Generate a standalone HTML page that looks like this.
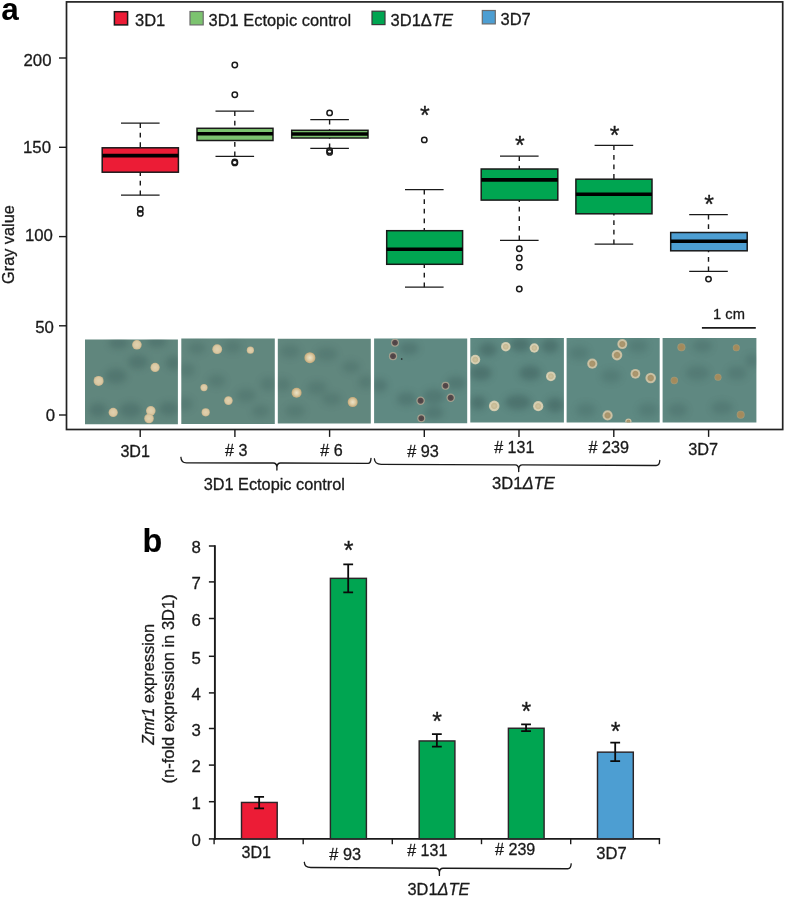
<!DOCTYPE html>
<html lang="en"><head><meta charset="utf-8"><title>Figure</title>
<style>html,body{margin:0;padding:0;background:#fff}body{width:785px;height:897px;overflow:hidden}svg{display:block}text{stroke:#1a1a1a;stroke-width:.3px;stroke-linejoin:round}</style>
</head><body>
<svg width="785" height="897" viewBox="0 0 785 897" font-family='"Liberation Sans", Arial, Helvetica, sans-serif' font-size="16.6" fill="#1a1a1a">
<defs>
<filter id="blur3" x="-50%" y="-50%" width="200%" height="200%"><feGaussianBlur stdDeviation="3.2"/></filter>
<filter id="blur1" x="-50%" y="-50%" width="200%" height="200%"><feGaussianBlur stdDeviation="0.5"/></filter>
<filter id="soft" x="-5%" y="-5%" width="110%" height="110%"><feGaussianBlur stdDeviation="0.35"/></filter>
</defs>
<rect width="785" height="897" fill="#fff"/>
<g id="panel-a">
<text x="1.2" y="19.6" font-size="31.5" font-weight="bold" fill="#000" style="stroke:none">a</text>
<rect x="66.5" y="1.9" width="716.2" height="427.6" fill="none" stroke="#222" stroke-width="1.7"/>
<line x1="59" y1="58.0" x2="66.5" y2="58.0" stroke="#1a1a1a" stroke-width="1.4"/>
<text x="51.5" y="65.8" text-anchor="end" font-size="16.8">200</text>
<line x1="59" y1="147.3" x2="66.5" y2="147.3" stroke="#1a1a1a" stroke-width="1.4"/>
<text x="51.0" y="153.1" text-anchor="end" font-size="16.8">150</text>
<line x1="59" y1="236.6" x2="66.5" y2="236.6" stroke="#1a1a1a" stroke-width="1.4"/>
<text x="52.9" y="240.6" text-anchor="end" font-size="16.8">100</text>
<line x1="59" y1="325.8" x2="66.5" y2="325.8" stroke="#1a1a1a" stroke-width="1.4"/>
<text x="53.8" y="332.9" text-anchor="end" font-size="16.8">50</text>
<line x1="59" y1="415.0" x2="66.5" y2="415.0" stroke="#1a1a1a" stroke-width="1.4"/>
<text x="55.0" y="421.2" text-anchor="end" font-size="16.8">0</text>
<text transform="translate(13.5,244.6) rotate(-90)" text-anchor="middle" font-size="16.3">Gray value</text>
<line x1="140.2" y1="429.5" x2="140.2" y2="436.9" stroke="#1a1a1a" stroke-width="1.4"/>
<line x1="234.9" y1="429.5" x2="234.9" y2="436.9" stroke="#1a1a1a" stroke-width="1.4"/>
<line x1="329.6" y1="429.5" x2="329.6" y2="436.9" stroke="#1a1a1a" stroke-width="1.4"/>
<line x1="424.3" y1="429.5" x2="424.3" y2="436.9" stroke="#1a1a1a" stroke-width="1.4"/>
<line x1="519.0" y1="429.5" x2="519.0" y2="436.9" stroke="#1a1a1a" stroke-width="1.4"/>
<line x1="613.8" y1="429.5" x2="613.8" y2="436.9" stroke="#1a1a1a" stroke-width="1.4"/>
<line x1="708.6" y1="429.5" x2="708.6" y2="436.9" stroke="#1a1a1a" stroke-width="1.4"/>
<rect x="114.4" y="11.7" width="13.2" height="13.2" fill="#ec1c36" stroke="#1a1a1a" stroke-width="1.5"/>
<text x="135" y="26.2" font-size="16.5">3D1</text>
<rect x="190" y="11.5" width="13.2" height="13.4" fill="#7cc36f" stroke="#6b6b6b" stroke-width="1.2"/>
<text x="208.5" y="25.8" font-size="16.45">3D1 Ectopic control</text>
<rect x="372" y="11.2" width="13" height="13.4" fill="#00a551" stroke="#3a3a3a" stroke-width="1.2"/>
<text x="390.6" y="26.1" font-size="16.5">3D1Δ<tspan font-style="italic">TE</tspan></text>
<rect x="482.3" y="10.5" width="13" height="13.4" fill="#4d9ed2" stroke="#6b6b6b" stroke-width="1.2"/>
<text x="500.5" y="25.3" font-size="16.5">3D7</text>
<line x1="140.3" y1="123.1" x2="140.3" y2="147.8" stroke="#1a1a1a" stroke-width="1.4" stroke-dasharray="4.8 4.8"/>
<line x1="140.3" y1="195.2" x2="140.3" y2="172.2" stroke="#1a1a1a" stroke-width="1.4" stroke-dasharray="4.8 4.8"/>
<line x1="121.00000000000001" y1="123.1" x2="159.60000000000002" y2="123.1" stroke="#1a1a1a" stroke-width="1.3"/>
<line x1="121.00000000000001" y1="195.2" x2="159.60000000000002" y2="195.2" stroke="#1a1a1a" stroke-width="1.3"/>
<rect x="102.2" y="147.8" width="76.2" height="24.399999999999977" fill="#ec1c36" stroke="#1a1a1a" stroke-width="1.5"/>
<line x1="102.2" y1="155.6" x2="178.4" y2="155.6" stroke="#000" stroke-width="3.6"/>
<circle cx="140.3" cy="209.2" r="2.7" fill="none" stroke="#1a1a1a" stroke-width="1.5"/>
<circle cx="140.3" cy="213.4" r="2.7" fill="none" stroke="#1a1a1a" stroke-width="1.5"/>
<line x1="234.8" y1="111.1" x2="234.8" y2="128.3" stroke="#1a1a1a" stroke-width="1.4" stroke-dasharray="4.8 4.8"/>
<line x1="234.8" y1="156.3" x2="234.8" y2="140.5" stroke="#1a1a1a" stroke-width="1.4" stroke-dasharray="4.8 4.8"/>
<line x1="215.5" y1="111.1" x2="254.10000000000002" y2="111.1" stroke="#1a1a1a" stroke-width="1.3"/>
<line x1="215.5" y1="156.3" x2="254.10000000000002" y2="156.3" stroke="#1a1a1a" stroke-width="1.3"/>
<rect x="197.0" y="128.3" width="76.0" height="12.199999999999989" fill="#7cc36f" stroke="#1a1a1a" stroke-width="1.5"/>
<line x1="197.0" y1="133.8" x2="273.0" y2="133.8" stroke="#000" stroke-width="3.6"/>
<circle cx="234.8" cy="65.0" r="2.7" fill="none" stroke="#1a1a1a" stroke-width="1.5"/>
<circle cx="234.8" cy="94.8" r="2.7" fill="none" stroke="#1a1a1a" stroke-width="1.5"/>
<circle cx="234.8" cy="162.0" r="2.7" fill="none" stroke="#1a1a1a" stroke-width="1.5"/>
<circle cx="234.8" cy="162.9" r="2.7" fill="none" stroke="#1a1a1a" stroke-width="1.5"/>
<line x1="329.6" y1="119.7" x2="329.6" y2="130.3" stroke="#1a1a1a" stroke-width="1.4" stroke-dasharray="4.8 4.8"/>
<line x1="329.6" y1="148.3" x2="329.6" y2="138.0" stroke="#1a1a1a" stroke-width="1.4" stroke-dasharray="4.8 4.8"/>
<line x1="310.3" y1="119.7" x2="348.90000000000003" y2="119.7" stroke="#1a1a1a" stroke-width="1.3"/>
<line x1="310.3" y1="148.3" x2="348.90000000000003" y2="148.3" stroke="#1a1a1a" stroke-width="1.3"/>
<rect x="291.7" y="130.3" width="76.30000000000001" height="7.699999999999989" fill="#7cc36f" stroke="#1a1a1a" stroke-width="1.5"/>
<line x1="291.7" y1="134.0" x2="368.0" y2="134.0" stroke="#000" stroke-width="3.6"/>
<circle cx="329.6" cy="112.9" r="2.7" fill="none" stroke="#1a1a1a" stroke-width="1.5"/>
<circle cx="329.6" cy="150.8" r="2.7" fill="none" stroke="#1a1a1a" stroke-width="1.5"/>
<circle cx="329.6" cy="152.4" r="2.7" fill="none" stroke="#1a1a1a" stroke-width="1.5"/>
<line x1="424.3" y1="189.6" x2="424.3" y2="230.7" stroke="#1a1a1a" stroke-width="1.4" stroke-dasharray="4.8 4.8"/>
<line x1="424.3" y1="287.2" x2="424.3" y2="264.3" stroke="#1a1a1a" stroke-width="1.4" stroke-dasharray="4.8 4.8"/>
<line x1="405.0" y1="189.6" x2="443.6" y2="189.6" stroke="#1a1a1a" stroke-width="1.3"/>
<line x1="405.0" y1="287.2" x2="443.6" y2="287.2" stroke="#1a1a1a" stroke-width="1.3"/>
<rect x="386.7" y="230.7" width="75.90000000000003" height="33.60000000000002" fill="#00a551" stroke="#1a1a1a" stroke-width="1.5"/>
<line x1="386.7" y1="249.2" x2="462.6" y2="249.2" stroke="#000" stroke-width="3.6"/>
<circle cx="424.3" cy="139.9" r="2.7" fill="none" stroke="#1a1a1a" stroke-width="1.5"/>
<text x="424.90000000000003" y="124.3" text-anchor="middle" font-size="25">*</text>
<line x1="519.3" y1="156.2" x2="519.3" y2="169.0" stroke="#1a1a1a" stroke-width="1.4" stroke-dasharray="4.8 4.8"/>
<line x1="519.3" y1="240.3" x2="519.3" y2="200.1" stroke="#1a1a1a" stroke-width="1.4" stroke-dasharray="4.8 4.8"/>
<line x1="499.99999999999994" y1="156.2" x2="538.5999999999999" y2="156.2" stroke="#1a1a1a" stroke-width="1.3"/>
<line x1="499.99999999999994" y1="240.3" x2="538.5999999999999" y2="240.3" stroke="#1a1a1a" stroke-width="1.3"/>
<rect x="481.2" y="169.0" width="76.59999999999997" height="31.099999999999994" fill="#00a551" stroke="#1a1a1a" stroke-width="1.5"/>
<line x1="481.2" y1="179.9" x2="557.8" y2="179.9" stroke="#000" stroke-width="3.6"/>
<circle cx="519.3" cy="248.7" r="2.7" fill="none" stroke="#1a1a1a" stroke-width="1.5"/>
<circle cx="519.3" cy="257.9" r="2.7" fill="none" stroke="#1a1a1a" stroke-width="1.5"/>
<circle cx="519.3" cy="267.1" r="2.7" fill="none" stroke="#1a1a1a" stroke-width="1.5"/>
<circle cx="519.3" cy="289.0" r="2.7" fill="none" stroke="#1a1a1a" stroke-width="1.5"/>
<text x="519.9" y="153.6" text-anchor="middle" font-size="25">*</text>
<line x1="613.9" y1="145.3" x2="613.9" y2="179.2" stroke="#1a1a1a" stroke-width="1.4" stroke-dasharray="4.8 4.8"/>
<line x1="613.9" y1="244.2" x2="613.9" y2="213.8" stroke="#1a1a1a" stroke-width="1.4" stroke-dasharray="4.8 4.8"/>
<line x1="594.6" y1="145.3" x2="633.1999999999999" y2="145.3" stroke="#1a1a1a" stroke-width="1.3"/>
<line x1="594.6" y1="244.2" x2="633.1999999999999" y2="244.2" stroke="#1a1a1a" stroke-width="1.3"/>
<rect x="575.9" y="179.2" width="76.10000000000002" height="34.60000000000002" fill="#00a551" stroke="#1a1a1a" stroke-width="1.5"/>
<line x1="575.9" y1="194.3" x2="652.0" y2="194.3" stroke="#000" stroke-width="3.6"/>
<text x="614.5" y="144.1" text-anchor="middle" font-size="25">*</text>
<line x1="708.5" y1="214.6" x2="708.5" y2="232.5" stroke="#1a1a1a" stroke-width="1.4" stroke-dasharray="4.8 4.8"/>
<line x1="708.5" y1="271.4" x2="708.5" y2="250.8" stroke="#1a1a1a" stroke-width="1.4" stroke-dasharray="4.8 4.8"/>
<line x1="689.2" y1="214.6" x2="727.8" y2="214.6" stroke="#1a1a1a" stroke-width="1.3"/>
<line x1="689.2" y1="271.4" x2="727.8" y2="271.4" stroke="#1a1a1a" stroke-width="1.3"/>
<rect x="670.7" y="232.5" width="76.5" height="18.30000000000001" fill="#4d9ed2" stroke="#1a1a1a" stroke-width="1.5"/>
<line x1="670.7" y1="241.3" x2="747.2" y2="241.3" stroke="#000" stroke-width="3.6"/>
<circle cx="708.5" cy="279.1" r="2.7" fill="none" stroke="#1a1a1a" stroke-width="1.5"/>
<text x="709.1" y="212.9" text-anchor="middle" font-size="25">*</text>
<line x1="701.9" y1="327.9" x2="755.8" y2="327.9" stroke="#1a1a1a" stroke-width="1.8"/>
<text x="729" y="319.3" text-anchor="middle" font-size="14.7">1 cm</text>
<radialGradient id="gCream"><stop offset="0" stop-color="#e0d1b0"/><stop offset="0.7" stop-color="#dac8a2"/><stop offset="1" stop-color="#c9b48c"/></radialGradient>
<radialGradient id="gCream2"><stop offset="0" stop-color="#ece3c8"/><stop offset="0.55" stop-color="#dccaa2"/><stop offset="1" stop-color="#c4a878"/></radialGradient>
<radialGradient id="gDark"><stop offset="0" stop-color="#4c4144"/><stop offset="0.6" stop-color="#564a4c"/><stop offset="0.82" stop-color="#a39b8a"/><stop offset="1" stop-color="#a3a291"/></radialGradient>
<radialGradient id="gRing"><stop offset="0" stop-color="#cfc4a2"/><stop offset="0.5" stop-color="#c6b993"/><stop offset="0.7" stop-color="#d9d2b6"/><stop offset="1" stop-color="#cbc5a9"/></radialGradient>
<radialGradient id="gRingB"><stop offset="0" stop-color="#ab9871"/><stop offset="0.5" stop-color="#a8936a"/><stop offset="0.72" stop-color="#cdc4a6"/><stop offset="1" stop-color="#c0b99e"/></radialGradient>
<radialGradient id="gTan"><stop offset="0" stop-color="#a3895a"/><stop offset="0.7" stop-color="#a48c5e"/><stop offset="1" stop-color="#a29a78"/></radialGradient>
<clipPath id="cp0"><rect x="85.0" y="339.6" width="92.9" height="84.6"/></clipPath>
<g clip-path="url(#cp0)">
<rect x="84.0" y="338.6" width="94.9" height="86.6" fill="#60867d"/>
<g filter="url(#blur3)" fill="#40625f" opacity="0.42">
<ellipse cx="116" cy="376" rx="11" ry="7.5"/>
<ellipse cx="138" cy="362" rx="10" ry="7"/>
<ellipse cx="130.5" cy="410" rx="11" ry="7.5"/>
<ellipse cx="173.6" cy="363" rx="8" ry="7"/>
<ellipse cx="169" cy="408.7" rx="10" ry="7"/>
<ellipse cx="98" cy="410" rx="9" ry="7"/>
<ellipse cx="118.5" cy="343" rx="10" ry="6"/>
<ellipse cx="157" cy="341.6" rx="10" ry="6"/>
</g>
<g filter="url(#blur1)">
<circle cx="136.9" cy="344.8" r="4.8" fill="url(#gCream)"/>
<circle cx="155.1" cy="367.4" r="4.6" fill="url(#gCream)"/>
<circle cx="98.6" cy="380.9" r="5" fill="url(#gCream)"/>
<circle cx="113.2" cy="412.4" r="4.6" fill="url(#gCream)"/>
<circle cx="150.8" cy="410.8" r="4.8" fill="url(#gCream)"/>
<circle cx="149" cy="418.5" r="4.8" fill="url(#gCream)"/>
</g></g>
<clipPath id="cp1"><rect x="181.3" y="338.6" width="93.5" height="85.3"/></clipPath>
<g clip-path="url(#cp1)">
<rect x="180.3" y="337.6" width="95.5" height="87.3" fill="#61877e"/>
<g filter="url(#blur3)" fill="#40625f" opacity="0.3">
<ellipse cx="197" cy="348" rx="9" ry="6.5"/>
<ellipse cx="232.6" cy="346.6" rx="9" ry="6.5"/>
<ellipse cx="187" cy="370" rx="8" ry="7"/>
<ellipse cx="246" cy="395.5" rx="10" ry="7"/>
<ellipse cx="216.7" cy="380.8" rx="9" ry="6.5"/>
<ellipse cx="268" cy="384" rx="8" ry="7"/>
<ellipse cx="185" cy="404" rx="8" ry="7"/>
<ellipse cx="260.7" cy="411" rx="9" ry="6.5"/>
</g>
<g filter="url(#blur1)">
<circle cx="217.2" cy="349.2" r="4.9" fill="url(#gCream)"/>
<circle cx="250.4" cy="350.2" r="3.6" fill="url(#gCream)"/>
<circle cx="204" cy="387.6" r="3.6" fill="url(#gCream)"/>
<circle cx="228.4" cy="400.6" r="4.3" fill="url(#gCream)"/>
<circle cx="205.7" cy="412.3" r="4.1" fill="url(#gCream)"/>
</g></g>
<clipPath id="cp2"><rect x="277.8" y="338.7" width="93.0" height="84.8"/></clipPath>
<g clip-path="url(#cp2)">
<rect x="276.8" y="337.7" width="95.0" height="86.8" fill="#61877e"/>
<g filter="url(#blur3)" fill="#40625f" opacity="0.3">
<ellipse cx="290" cy="351.4" rx="10" ry="7"/>
<ellipse cx="326.7" cy="354" rx="11" ry="7"/>
<ellipse cx="282.7" cy="384.5" rx="8" ry="7"/>
<ellipse cx="317" cy="388" rx="10" ry="7"/>
<ellipse cx="331.6" cy="399" rx="10" ry="6.5"/>
<ellipse cx="365.8" cy="382" rx="8" ry="7"/>
<ellipse cx="295" cy="411" rx="10" ry="6.5"/>
<ellipse cx="351" cy="367" rx="9" ry="6.5"/>
</g>
<g filter="url(#blur1)">
<circle cx="309.9" cy="357.7" r="5.5" fill="url(#gCream2)"/>
<circle cx="296.6" cy="392.8" r="5.0" fill="url(#gCream2)"/>
<circle cx="352.7" cy="402.1" r="5.0" fill="url(#gCream2)"/>
</g></g>
<clipPath id="cp3"><rect x="374.1" y="338.6" width="93.1" height="84.7"/></clipPath>
<g clip-path="url(#cp3)">
<rect x="373.1" y="337.6" width="95.1" height="86.7" fill="#5f8982"/>
<g filter="url(#blur3)" fill="#40625f" opacity="0.4">
<ellipse cx="433.8" cy="396.6" rx="11" ry="7.5"/>
<ellipse cx="406.6" cy="399" rx="10" ry="7"/>
<ellipse cx="379.4" cy="385.4" rx="8" ry="7"/>
<ellipse cx="456" cy="383" rx="10" ry="7"/>
<ellipse cx="433.8" cy="412.6" rx="10" ry="6.5"/>
<ellipse cx="409" cy="348.4" rx="10" ry="6.5"/>
</g>
<g filter="url(#blur1)">
<circle cx="395" cy="342.7" r="4.0" fill="url(#gDark)"/>
<circle cx="393" cy="356.2" r="4.1" fill="url(#gDark)"/>
<circle cx="445.5" cy="385.8" r="4.0" fill="url(#gDark)"/>
<circle cx="450.7" cy="397.8" r="4.2" fill="url(#gDark)"/>
<circle cx="420.6" cy="400.7" r="4.2" fill="url(#gDark)"/>
<circle cx="421.3" cy="418.3" r="4.0" fill="url(#gDark)"/>
<circle cx="401.7" cy="359" r="0.9" fill="#2e3a3a"/>
</g></g>
<clipPath id="cp4"><rect x="470.3" y="337.9" width="93.6" height="84.6"/></clipPath>
<g clip-path="url(#cp4)">
<rect x="469.3" y="336.9" width="95.6" height="86.6" fill="#5e8982"/>
<g filter="url(#blur3)" fill="#40625f" opacity="0.55">
<ellipse cx="520.3" cy="344.7" rx="10" ry="7"/>
<ellipse cx="550" cy="346" rx="9" ry="7"/>
<ellipse cx="488" cy="349.6" rx="9" ry="7"/>
<ellipse cx="480.7" cy="373" rx="11" ry="7.5"/>
<ellipse cx="530" cy="373" rx="11" ry="7.5"/>
<ellipse cx="517.8" cy="402.2" rx="13" ry="7.5"/>
<ellipse cx="555" cy="405" rx="9" ry="7.5"/>
<ellipse cx="478.3" cy="402.7" rx="8" ry="7"/>
</g>
<g filter="url(#blur1)">
<circle cx="475.3" cy="359.6" r="4.9" fill="url(#gRing)"/>
<circle cx="505.8" cy="346.7" r="4.8" fill="url(#gRing)"/>
<circle cx="534.3" cy="348.0" r="4.7" fill="url(#gRing)"/>
<circle cx="550.9" cy="376.3" r="4.9" fill="url(#gRing)"/>
<circle cx="494.2" cy="405.9" r="5.3" fill="url(#gRing)"/>
<circle cx="538.2" cy="406.2" r="5.1" fill="url(#gRing)"/>
</g></g>
<clipPath id="cp5"><rect x="566.6" y="337.9" width="93.1" height="84.6"/></clipPath>
<g clip-path="url(#cp5)">
<rect x="565.6" y="336.9" width="95.1" height="86.6" fill="#5e8982"/>
<g filter="url(#blur3)" fill="#40625f" opacity="0.3">
<ellipse cx="638" cy="346" rx="10" ry="7"/>
<ellipse cx="579" cy="353" rx="10" ry="7"/>
<ellipse cx="611" cy="376" rx="10" ry="7"/>
<ellipse cx="586" cy="410" rx="10" ry="7"/>
<ellipse cx="648" cy="410" rx="10" ry="7"/>
</g>
<g filter="url(#blur1)">
<circle cx="622.3" cy="344.1" r="5.0" fill="url(#gRingB)"/>
<circle cx="617.0" cy="355.1" r="5.3" fill="url(#gRingB)"/>
<circle cx="592.3" cy="363.7" r="5.1" fill="url(#gRingB)"/>
<circle cx="635.4" cy="373.8" r="4.9" fill="url(#gRingB)"/>
<circle cx="650.7" cy="378" r="5.3" fill="url(#gRingB)"/>
<circle cx="607.6" cy="415.4" r="5.1" fill="url(#gRingB)"/>
<circle cx="628.4" cy="421.6" r="3.2" fill="url(#gRingB)"/>
</g></g>
<clipPath id="cp6"><rect x="662.6" y="337.9" width="93.8" height="84.5"/></clipPath>
<g clip-path="url(#cp6)">
<rect x="661.6" y="336.9" width="95.8" height="86.5" fill="#5f8881"/>
<g filter="url(#blur3)" fill="#40625f" opacity="0.32">
<ellipse cx="697.5" cy="373" rx="12" ry="7.5"/>
<ellipse cx="737" cy="373" rx="10" ry="7"/>
<ellipse cx="702.4" cy="346" rx="10" ry="6.5"/>
<ellipse cx="722" cy="407.7" rx="11" ry="7"/>
<ellipse cx="677.7" cy="410" rx="10" ry="7"/>
<ellipse cx="752" cy="360.7" rx="7" ry="7"/>
</g>
<g filter="url(#blur1)">
<circle cx="681.4" cy="347.2" r="4.0" fill="url(#gTan)"/>
<circle cx="736.3" cy="347.8" r="3.5" fill="url(#gTan)"/>
<circle cx="674.3" cy="380.5" r="3.7" fill="url(#gTan)"/>
<circle cx="718" cy="377.2" r="3.5" fill="url(#gTan)"/>
<circle cx="740.7" cy="414.7" r="4.0" fill="url(#gTan)"/>
</g></g>
<text x="135.2" y="456.6" text-anchor="middle" font-size="16.1">3D1</text>
<text x="236.2" y="456.1" text-anchor="middle" font-size="16.1"># 3</text>
<text x="331.4" y="456.0" text-anchor="middle" font-size="16.1"># 6</text>
<text x="423.1" y="456.6" text-anchor="middle" font-size="16.3"># 93</text>
<text x="514.3" y="452.9" text-anchor="middle" font-size="16.0"># 131</text>
<text x="608.7" y="453.4" text-anchor="middle" font-size="16.2"># 239</text>
<text x="703.2" y="455.2" text-anchor="middle" font-size="16.3">3D7</text>
<path d="M180.9,457.3 Q181.20000000000002,462.9 186.4,462.9 L273.29999999999995,463.0 Q276.7,463.0 276.9,467.2 L276.9,470.1 M276.9,467.2 Q277.09999999999997,463.0 280.5,463.0 L368.2,463.3 Q370.7,463.3 371.0,458.4" fill="none" stroke="#1a1a1a" stroke-width="1.35" stroke-linecap="round" stroke-linejoin="round"/>
<path d="M374.4,458.8 Q374.7,464.3 381.2,464.3 L515.1,464.9 Q518.5,464.9 518.7,469.09999999999997 L518.7,471.6 M518.7,469.09999999999997 Q518.9000000000001,464.9 522.3000000000001,464.9 L656.1999999999999,465.5 Q659.5,465.5 659.8,460.5" fill="none" stroke="#1a1a1a" stroke-width="1.35" stroke-linecap="round" stroke-linejoin="round"/>
<text x="274.3" y="489.6" text-anchor="middle" font-size="16.3">3D1 Ectopic control</text>
<text x="492" y="488.6">3D1<tspan font-style="italic">ΔTE</tspan></text>
</g>
<g id="panel-b">
<text x="142.6" y="551.6" font-size="32.3" font-weight="bold" fill="#000" style="stroke-width:.15px">b</text>
<line x1="214.9" y1="545.25" x2="214.9" y2="839.75" stroke="#1a1a1a" stroke-width="1.9"/>
<line x1="214.0" y1="838.85" x2="660.2" y2="838.85" stroke="#1a1a1a" stroke-width="1.9"/>
<line x1="208.9" y1="546.0" x2="214.9" y2="546.0" stroke="#1a1a1a" stroke-width="1.5"/>
<text x="200.8" y="553.3" text-anchor="end" font-size="16.8">8</text>
<line x1="208.9" y1="581.9" x2="214.9" y2="581.9" stroke="#1a1a1a" stroke-width="1.5"/>
<text x="200.8" y="589.2" text-anchor="end" font-size="16.8">7</text>
<line x1="208.9" y1="618.5" x2="214.9" y2="618.5" stroke="#1a1a1a" stroke-width="1.5"/>
<text x="200.8" y="625.8" text-anchor="end" font-size="16.8">6</text>
<line x1="208.9" y1="656.3" x2="214.9" y2="656.3" stroke="#1a1a1a" stroke-width="1.5"/>
<text x="200.8" y="663.6" text-anchor="end" font-size="16.8">5</text>
<line x1="208.9" y1="692.9" x2="214.9" y2="692.9" stroke="#1a1a1a" stroke-width="1.5"/>
<text x="200.8" y="700.2" text-anchor="end" font-size="16.8">4</text>
<line x1="208.9" y1="728.5" x2="214.9" y2="728.5" stroke="#1a1a1a" stroke-width="1.5"/>
<text x="200.8" y="735.8" text-anchor="end" font-size="16.8">3</text>
<line x1="208.9" y1="765.1" x2="214.9" y2="765.1" stroke="#1a1a1a" stroke-width="1.5"/>
<text x="200.8" y="772.4" text-anchor="end" font-size="16.8">2</text>
<line x1="208.9" y1="801.7" x2="214.9" y2="801.7" stroke="#1a1a1a" stroke-width="1.5"/>
<text x="200.8" y="809.0" text-anchor="end" font-size="16.8">1</text>
<line x1="208.9" y1="838.9" x2="214.9" y2="838.9" stroke="#1a1a1a" stroke-width="1.5"/>
<text x="200.8" y="846.1" text-anchor="end" font-size="16.8">0</text>
<line x1="214.1" y1="838.85" x2="214.1" y2="844.2" stroke="#1a1a1a" stroke-width="1.4"/>
<line x1="303.2" y1="838.85" x2="303.2" y2="844.2" stroke="#1a1a1a" stroke-width="1.4"/>
<line x1="392.3" y1="838.85" x2="392.3" y2="844.2" stroke="#1a1a1a" stroke-width="1.4"/>
<line x1="481.5" y1="838.85" x2="481.5" y2="844.2" stroke="#1a1a1a" stroke-width="1.4"/>
<line x1="570.7" y1="838.85" x2="570.7" y2="844.2" stroke="#1a1a1a" stroke-width="1.4"/>
<line x1="659.4" y1="838.85" x2="659.4" y2="844.2" stroke="#1a1a1a" stroke-width="1.4"/>
<text transform="translate(154.4,684.3) rotate(-90)" text-anchor="middle" font-size="16.4"><tspan font-style="italic" font-size="15.8">Zmr1</tspan> expression</text>
<text transform="translate(174,688.9) rotate(-90)" text-anchor="middle" font-size="16.55">(n-fold expression in 3D1)</text>
<rect x="241.50" y="802.45" width="35.70" height="36.40" fill="#ec1c36" stroke="#2b2528" stroke-width="1.45"/>
<path d="M259.15,796.9 V808.4 M254.25,796.9 H264.05 M254.25,808.4 H264.05" stroke="#0a0a0a" stroke-width="1.8" fill="none"/>
<rect x="330.40" y="578.35" width="36.00" height="260.50" fill="#00a551" stroke="#2b2528" stroke-width="1.45"/>
<path d="M348.20,564.3 V592.3 M343.30,564.3 H353.10 M343.30,592.3 H353.10" stroke="#0a0a0a" stroke-width="1.8" fill="none"/>
<text x="348.5" y="559.4" text-anchor="middle" font-size="25">*</text>
<rect x="419.20" y="740.95" width="35.70" height="97.90" fill="#00a551" stroke="#2b2528" stroke-width="1.45"/>
<path d="M436.85,734.1999999999999 V746.6999999999999 M431.95,734.1999999999999 H441.75 M431.95,746.6999999999999 H441.75" stroke="#0a0a0a" stroke-width="1.8" fill="none"/>
<text x="437.2" y="730.1" text-anchor="middle" font-size="25">*</text>
<rect x="508.40" y="728.25" width="35.70" height="110.60" fill="#00a551" stroke="#2b2528" stroke-width="1.45"/>
<path d="M526.05,724.3 V731.1999999999999 M521.15,724.3 H530.95 M521.15,731.1999999999999 H530.95" stroke="#0a0a0a" stroke-width="1.8" fill="none"/>
<text x="526.3" y="720.4" text-anchor="middle" font-size="25">*</text>
<rect x="597.50" y="752.15" width="35.80" height="86.70" fill="#4d9ed2" stroke="#2b2528" stroke-width="1.45"/>
<path d="M615.20,742.6 V761.1999999999999 M610.30,742.6 H620.10 M610.30,761.1999999999999 H620.10" stroke="#0a0a0a" stroke-width="1.8" fill="none"/>
<text x="615.5" y="740.0" text-anchor="middle" font-size="25">*</text>
<text x="256.3" y="858.1" text-anchor="middle" font-size="16.1">3D1</text>
<text x="345.2" y="859.7" text-anchor="middle" font-size="16.3"># 93</text>
<text x="427.3" y="855.6" text-anchor="middle" font-size="16.0"># 131</text>
<text x="515.2" y="854.9" text-anchor="middle" font-size="16.1"># 239</text>
<text x="611.4" y="859.4" text-anchor="middle">3D7</text>
<path d="M304.3,862.3 Q304.6,867.5 310.8,867.5 L435.79999999999995,868.2 Q439.2,868.2 439.4,872.4000000000001 L439.4,875.4 M439.4,872.4000000000001 Q439.59999999999997,868.2 443.0,868.2 L567.8000000000001,868.7 Q570.9000000000001,868.7 571.2,863.8" fill="none" stroke="#1a1a1a" stroke-width="1.35" stroke-linecap="round" stroke-linejoin="round"/>
<text x="407.5" y="894.6" font-size="16.4">3D1<tspan font-style="italic">ΔTE</tspan></text>
</g>
</svg>
</body></html>
